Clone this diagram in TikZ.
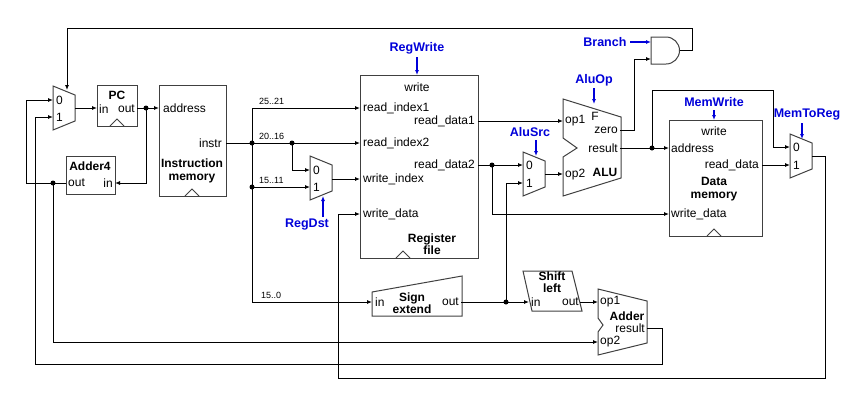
\documentclass[tikz,border=0pt]{standalone}
\usepackage{fontspec}
\setmainfont{Liberation Sans}
\usetikzlibrary{arrows.meta}
\begin{document}
\begin{tikzpicture}[x=1pt,y=-1pt,
  w/.style={line width=0.9pt},
  a/.style={w,-{Latex[length=5pt,width=4pt]}},
  blk/.style={draw=black!75,line width=1pt},
  ctl/.style={text=blue!85!black,font=\fontsize{12.5}{13}\selectfont\bfseries},
  ca/.style={draw=blue!85!black,line width=1.2pt,-{Latex[length=5pt,width=4pt]}},
  t/.style={inner sep=1pt,font=\fontsize{12}{13}\selectfont},
  b/.style={inner sep=0pt,font=\fontsize{12}{12.5}\selectfont\bfseries,align=center},
  s/.style={inner sep=1pt,font=\fontsize{9}{10}\selectfont},
  dot/.style={circle,fill,inner sep=0pt,minimum size=5pt}]
\useasboundingbox (0,0) rectangle (864,400);
% ---------- coordinates ----------
\coordinate (pcmI0) at (53,100); \coordinate (pcmI1) at (53,117); \coordinate (pcmO) at (75,108);
\coordinate (pcIn) at (97,108); \coordinate (pcOut) at (137,108);
\coordinate (imAddr) at (159,108); \coordinate (imInstr) at (226,143);
\coordinate (a4In) at (115,183); \coordinate (a4Out) at (66,183);
\coordinate (ri1) at (360,108); \coordinate (ri2) at (360,143); \coordinate (wi) at (360,179); \coordinate (wd) at (360,214);
\coordinate (rd1) at (478,121); \coordinate (rd2) at (478,165);
\coordinate (rdm0) at (310,170); \coordinate (rdm1) at (310,187); \coordinate (rdmO) at (332,179);
\coordinate (asm0) at (523,165); \coordinate (asm1) at (523,183); \coordinate (asmO) at (545,174);
\coordinate (aluOp1) at (563,121); \coordinate (aluOp2) at (563,174); \coordinate (aluZero) at (620,130); \coordinate (aluRes) at (620,148);
\coordinate (dmAddr) at (669,148); \coordinate (dmRd) at (762,165); \coordinate (dmWd) at (669,214);
\coordinate (mtm0) at (790,147); \coordinate (mtm1) at (790,165); \coordinate (mtmO) at (812,156);
\coordinate (seIn) at (372,302); \coordinate (seOut) at (461,302);
\coordinate (slIn) at (529,302); \coordinate (slOut) at (580,302);
\coordinate (adOp1) at (598,302); \coordinate (adOp2) at (598,342); \coordinate (adRes) at (647,328);
\coordinate (andI1) at (651,42); \coordinate (andI2) at (651,59); \coordinate (andO) at (680,50);
% ---------- blocks ----------
\draw[blk] (53,86) -- (75,95) -- (75,121) -- (53,130) -- cycle;
\node[t,anchor=west] at (55,100) {0}; \node[t,anchor=west] at (55,117) {1};
\draw[blk] (97,85) rectangle (137,126);
\node[b] (pc) at (117,95) {PC};
\node[t,anchor=west] at (98,109) {in}; \node[t,anchor=east] at (136,109) {out};
\draw[blk] (110,126) -- (117,119) -- (124,126);
\draw[blk] (159,85) rectangle (226,196);
\node[t,anchor=west] at (162,108) {address};
\node[t,anchor=east] at (223,143) {instr};
\node[b] (im) at (192,171) {Instruction\\memory};
\draw[blk] (185,196) -- (192,189) -- (199,196);
\draw[blk] (66,156) rectangle (115,194);
\node[b] (a4) at (90,166) {Adder4};
\node[t,anchor=west] at (67,183) {out}; \node[t,anchor=east] at (114,183) {in};
\draw[blk] (310,156) -- (332,165) -- (332,191) -- (310,200) -- cycle;
\node[t,anchor=west] at (312,170) {0}; \node[t,anchor=west] at (312,187) {1};
\draw[blk] (360,75) rectangle (478,258);
\node[t] at (417,87) {write};
\node[t,anchor=west] at (362,108) {read\_index1};
\node[t,anchor=east] at (476,121) {read\_data1};
\node[t,anchor=west] at (362,143) {read\_index2};
\node[t,anchor=east] at (476,165) {read\_data2};
\node[t,anchor=west] at (362,179) {write\_index};
\node[t,anchor=west] at (362,214) {write\_data};
\node[b] (rf) at (432,244) {Register\\file};
\draw[blk] (396,258) -- (403,251) -- (410,258);
\draw[blk] (523,152) -- (545,161) -- (545,187) -- (523,196) -- cycle;
\node[t,anchor=west] at (525,165) {0}; \node[t,anchor=west] at (525,183) {1};
\draw[blk] (563,99) -- (621,117) -- (621,178) -- (563,196) -- (563,157) -- (577,148) -- (563,138) -- cycle;
\node[t,anchor=west] at (564,121) {op1};
\node[t,anchor=west] at (564,175) {op2};
\node[t] at (595,116) {F};
\node[t,anchor=east] at (619,130) {zero};
\node[t,anchor=east] at (619,148) {result};
\node[b] (alu) at (605,172) {ALU};
\draw[blk] (669,120) rectangle (762,236);
\node[t] at (714,131) {write};
\node[t,anchor=west] at (670,148) {address};
\node[t,anchor=east] at (760,165) {read\_data};
\node[b] (dm) at (714,189) {Data\\memory};
\node[t,anchor=west] at (670,214) {write\_data};
\draw[blk] (707,236) -- (714,229) -- (721,236);
\draw[blk] (790,134) -- (812,143) -- (812,169) -- (790,178) -- cycle;
\node[t,anchor=west] at (792,147) {0}; \node[t,anchor=west] at (792,165) {1};
\draw[blk] (372,292) -- (462,276) -- (462,316) -- (372,316) -- cycle;
\node[t,anchor=west] at (374,302) {in}; \node[t,anchor=east] at (460,302) {out};
\node[b] (se) at (412,303) {Sign\\extend};
\draw[blk] (523,271) -- (572,271) -- (582,311) -- (532,311) -- cycle;
\node[b] (sl) at (552,282) {Shift\\left};
\node[t,anchor=west] at (530,302) {in}; \node[t,anchor=east] at (580,302) {out};
\draw[blk] (598,289) -- (647,301) -- (647,343) -- (598,355) -- (598,332) -- (603,325) -- (598,318) -- cycle;
\node[t,anchor=west] at (599,302) {op1}; \node[t,anchor=west] at (599,342) {op2};
\node[b] (add) at (627,316) {Adder};
\node[t,anchor=east] at (646,328) {result};
\draw[blk] (651,37) -- (666,37) arc[start angle=-90,end angle=90,radius=13.5] -- (651,64) -- cycle;
% ---------- control labels ----------
\node[ctl] (cRW) at (417,48) {RegWrite};
\node[ctl] (cRD) at (307,225) {RegDst};
\node[ctl] (cAS) at (530,132) {AluSrc};
\node[ctl] (cAO) at (594,80) {AluOp};
\node[ctl] (cMW) at (714,102) {MemWrite};
\node[ctl] (cMR) at (807,115) {MemToReg};
\node[ctl,anchor=east] (cBr) at (630,42) {Branch};
\draw[ca] (cRW.south) -- (417,75);
\draw[ca] (323,217) -- (323,196);
\draw[ca] (536,140) -- (536,156);
\draw[ca] (594,88) -- (594,104);
\draw[ca] (714,110) -- (714,120);
\draw[ca] (802,123) -- (802,139);
\draw[ca] (cBr.east) -- (andI1);
% ---------- wires ----------
\draw[a] (andO) -- (692,50) -- (692,28) -- (67,28) -- (67,90);
\draw[a] (aluZero) -- (634,130) -- (634,59) -- (andI2);
\draw[a] (pcmO) -- (pcIn);
\node[dot] (d1) at (146,108) {};
\draw[a] (pcOut) -- (imAddr);
\draw[a] (d1.center) -- (146,183) -- (a4In);
\draw[a] (a4Out) -- (26,183) -- (26,100) -- (pcmI0);
\node[dot] (d2) at (53,183) {};
\draw[a] (d2.center) -- (53,342) -- (adOp2);
\draw[a] (adRes) -- (662,328) -- (662,364) -- (35,364) -- (35,117) -- (pcmI1);
\node[dot] (d3) at (252,143) {};
\draw[w] (imInstr) -- (d3.center);
\draw[a] (252,108) -- (ri1); \draw[w] (252,108) -- (252,302);
\node[s,anchor=south west] at (258,106) {25..21};
\draw[a] (d3.center) -- (ri2);
\node[s,anchor=south west] at (258,141) {20..16};
\node[dot] (d4) at (292,143) {};
\draw[a] (d4.center) -- (292,170) -- (rdm0);
\node[dot] (d5) at (252,187) {};
\draw[a] (d5.center) -- (rdm1);
\node[s,anchor=south west] at (258,185) {15..11};
\draw[a] (252,302) -- (seIn);
\node[s,anchor=south west] at (260,300) {15..0};
\draw[a] (rdmO) -- (wi);
\draw[a] (rd1) -- (aluOp1);
\node[dot] (d6) at (492,165) {};
\draw[a] (rd2) -- (asm0);
\draw[a] (d6.center) -- (492,214) -- (dmWd);
\draw[a] (asmO) -- (aluOp2);
\node[dot] (d7) at (506,302) {};
\draw[a] (seOut) -- (slIn);
\draw[a] (d7.center) -- (506,183) -- (asm1);
\draw[a] (slOut) -- (adOp1);
\node[dot] (d8) at (652,148) {};
\draw[a] (aluRes) -- (dmAddr);
\draw[a] (d8.center) -- (652,90) -- (773,90) -- (773,147) -- (mtm0);
\draw[a] (dmRd) -- (mtm1);
\draw[a] (mtmO) -- (825,156) -- (825,378) -- (338,378) -- (338,214) -- (wd);
\end{tikzpicture}
\end{document}
